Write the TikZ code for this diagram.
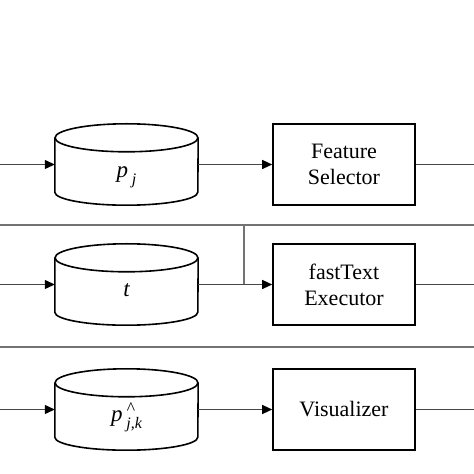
\documentclass[tikz,border=0pt]{standalone}
\usepackage{fontspec}
\setmainfont{Liberation Serif}
\usetikzlibrary{arrows.meta}
\tikzset{
  cylnode/.style={draw=none, minimum width=143pt, minimum height=81pt, inner sep=0pt},
  boxnode/.style={draw=black, line width=1.6pt, fill=white, minimum width=142pt, minimum height=81pt, inner sep=0pt, align=center, font=\fontsize{22}{26}\selectfont},
  cylline/.style={draw=black, line width=1.6pt},
  mathlbl/.style={inner sep=0pt, font=\fontsize{23}{26}\selectfont\itshape},
  conn/.style={draw=black!72, line width=1.2pt, -{Triangle[length=10pt,width=9pt,color=black]}},
  plain/.style={draw=black!72, line width=1.2pt},
  sep/.style={draw=black!55, line width=1.5pt}
}
\newcommand{\drawcyl}[1]{%
  \draw[cylline] ([yshift=-14pt]#1.north west) -- ([yshift=13pt]#1.south west)
    arc[start angle=180, end angle=360, x radius=71.5pt, y radius=13pt]
    -- ([yshift=-14pt]#1.north east);
  \draw[cylline] ([yshift=-14pt]#1.north) ellipse [x radius=71.5pt, y radius=14pt];
}
\newcommand{\lowsub}[1]{\raisebox{-0.3em}{\fontsize{16}{18}\selectfont #1}}
\begin{document}
\begin{tikzpicture}[x=1pt,y=1pt]
\useasboundingbox (0,0) rectangle (474,474);
\fill[white] (0,0) rectangle (474,474);
% row 1
\node[cylnode] (c1) at (126.5,309.5) {};
\drawcyl{c1}
\node[mathlbl, anchor=base] (c1t) at ([yshift=-13pt]c1.center) {p\,\lowsub{j}};
\node[boxnode] (b1) at (344,309.5) {Feature\\Selector};
\coordinate (l1) at (0,309.5);
\coordinate (r1) at (474,309.5);
\draw[conn] (l1) -- (c1.west);
\draw[conn] (c1.east) -- (b1.west);
\draw[plain] (b1.east) -- (r1);
% separator 1
\coordinate (s1l) at (0,249);
\coordinate (s1r) at (474,249);
\coordinate (s1j) at (244,249);
\draw[sep] (s1l) -- (s1r);
% row 2
\node[cylnode] (c2) at (126.5,189.5) {};
\drawcyl{c2}
\node[mathlbl, anchor=base] (c2t) at ([yshift=-12pt]c2.center) {t};
\node[boxnode] (b2) at (344,189.5) {fastText\\Executor};
\coordinate (l2) at (0,189.5);
\coordinate (r2) at (474,189.5);
\coordinate (j2) at (244,189.5);
\draw[conn] (l2) -- (c2.west);
\draw[conn] (c2.east) -- (b2.west);
\draw[plain] (b2.east) -- (r2);
\draw[sep] (s1j) -- (j2);
% separator 2
\coordinate (s2l) at (0,127);
\coordinate (s2r) at (474,127);
\draw[sep] (s2l) -- (s2r);
% row 3
\node[cylnode] (c3) at (126.5,64.5) {};
\drawcyl{c3}
\node[mathlbl, anchor=base] (c3t) at ([yshift=-12pt]c3.center) {p\,\rlap{\raisebox{0.32em}{\fontsize{18}{18}\selectfont\^{}}}\lowsub{j,k}};
\node[boxnode] (b3) at (344,64.5) {Visualizer};
\coordinate (l3) at (0,64.5);
\coordinate (r3) at (474,64.5);
\draw[conn] (l3) -- (c3.west);
\draw[conn] (c3.east) -- (b3.west);
\draw[plain] (b3.east) -- (r3);
\end{tikzpicture}
\end{document}
